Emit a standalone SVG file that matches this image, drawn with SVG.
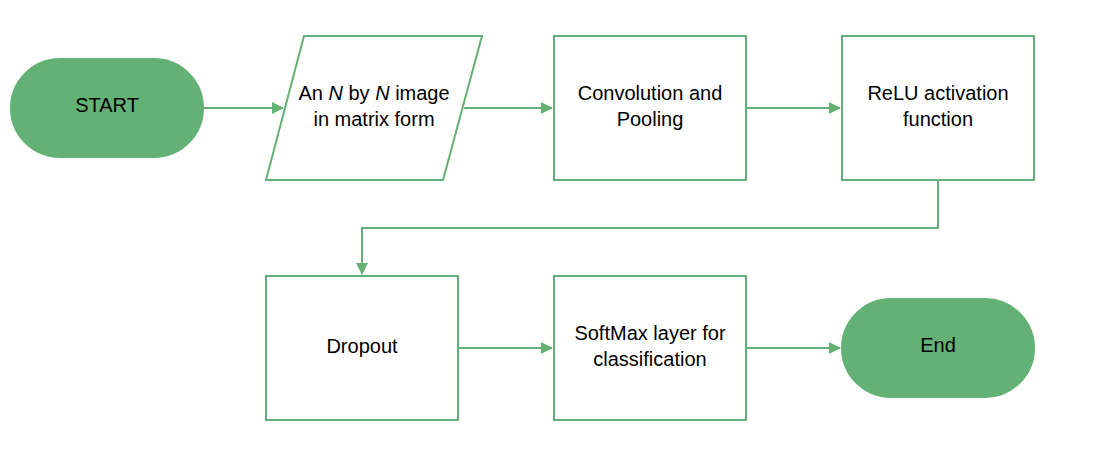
<svg xmlns="http://www.w3.org/2000/svg" width="1111" height="465" viewBox="0 0 1111 465">
<style>
.n{fill:#fff;stroke:#63b175;stroke-width:2}
.p{fill:#63b175;stroke:#63b175;stroke-width:2}
.c{fill:none;stroke:#63b175;stroke-width:2}
text{font-family:"Liberation Sans",Arial,sans-serif;font-size:20px;fill:#000;text-anchor:middle}
</style>
<defs><marker id="a" markerWidth="12" markerHeight="12" refX="11" refY="6" orient="auto" markerUnits="userSpaceOnUse"><path d="M0,0 L12,6 L0,12 Z" fill="#63b175"/></marker></defs>
<rect width="1111" height="465" fill="#fff"/>
<g id="connectors">
<path class="c" d="M203,108 H283" marker-end="url(#a)"/>
<path class="c" d="M464,108 H552" marker-end="url(#a)"/>
<path class="c" d="M746,108 H840" marker-end="url(#a)"/>
<path class="c" d="M938,180 V228 H362 V274" marker-end="url(#a)"/>
<path class="c" d="M458,348 H552" marker-end="url(#a)"/>
<path class="c" d="M746,348 H840" marker-end="url(#a)"/>
</g>
<g id="start"><rect class="p" x="11" y="59" width="192" height="98" rx="49"/><text x="107" y="112">START</text></g>
<g id="input"><path class="n" d="M304,36 H482 L443,180 H266 Z"/><text x="374" y="100">An <tspan font-style="italic">N</tspan> by <tspan font-style="italic">N</tspan> image</text><text x="374" y="126">in matrix form</text></g>
<g id="conv"><rect class="n" x="554" y="36" width="192" height="144"/><text x="650" y="100">Convolution and</text><text x="650" y="126">Pooling</text></g>
<g id="relu"><rect class="n" x="842" y="36" width="192" height="144"/><text x="938" y="100">ReLU activation</text><text x="938" y="126">function</text></g>
<g id="dropout"><rect class="n" x="266" y="276" width="192" height="144"/><text x="362" y="353">Dropout</text></g>
<g id="softmax"><rect class="n" x="554" y="276" width="192" height="144"/><text x="650" y="340">SoftMax layer for</text><text x="650" y="366">classification</text></g>
<g id="end"><rect class="p" x="842" y="299" width="192" height="98" rx="49"/><text x="938" y="352">End</text></g>
</svg>
